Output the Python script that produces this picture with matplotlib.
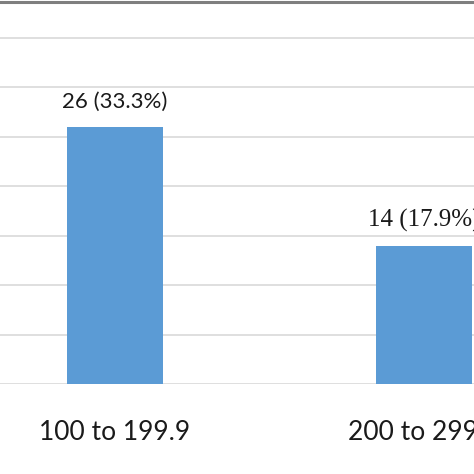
import numpy as np
import matplotlib
matplotlib.use('Agg')
import matplotlib.pyplot as plt
from matplotlib.lines import Line2D

# chart values
categories = ['100 to 199.9', '200 to 299.9']
counts = [26, 14]
percents = [33.3, 17.9]
label_fonts = ['Lato', 'Liberation Serif']
label_sizes = [16, 18]

fig = plt.figure(figsize=(4.74, 4.74), dpi=100)
# axes run past the figure edges, the reference is a crop of a larger chart
ax = fig.add_axes([0, 90 / 474, 1, 384 / 474])

x = np.arange(len(categories))
ax.bar(x, counts, width=0.31, color='#5b9bd5', zorder=2)

ax.set_xlim(-115 / 309, (474 - 115) / 309)
ax.set_ylim(0, 38.85)
ax.set_yticks(np.arange(0, 40, 5))
ax.yaxis.grid(True, color='#d9d9d9', linewidth=1.2)
ax.set_axisbelow(True)
ax.tick_params(left=False, bottom=False, labelleft=False, labelbottom=False)
for s in ax.spines.values():
    s.set_visible(False)

# value labels above bars
for i, (c, p) in enumerate(zip(counts, percents)):
    ax.annotate(f'{c} ({p}%)', xy=(i, c), xytext=(0, 18), textcoords='offset points',
                ha='center', va='center', fontsize=label_sizes[i], color='#1a1a1a',
                family=label_fonts[i])

# category labels under the baseline
for i, cat in enumerate(categories):
    ax.annotate(cat, xy=(i, 0), xycoords=('data', 'axes fraction'), xytext=(0, -35),
                textcoords='offset points', ha='center', va='center',
                fontsize=19, color='#1a1a1a', family='Lato')

# dark border line along the top of the crop
fig.add_artist(Line2D([0, 1], [1 - 1.5 / 474, 1 - 1.5 / 474], transform=fig.transFigure,
                      color='#7f7f7f', linewidth=2.2))

fig.savefig('out.png', dpi=100)
